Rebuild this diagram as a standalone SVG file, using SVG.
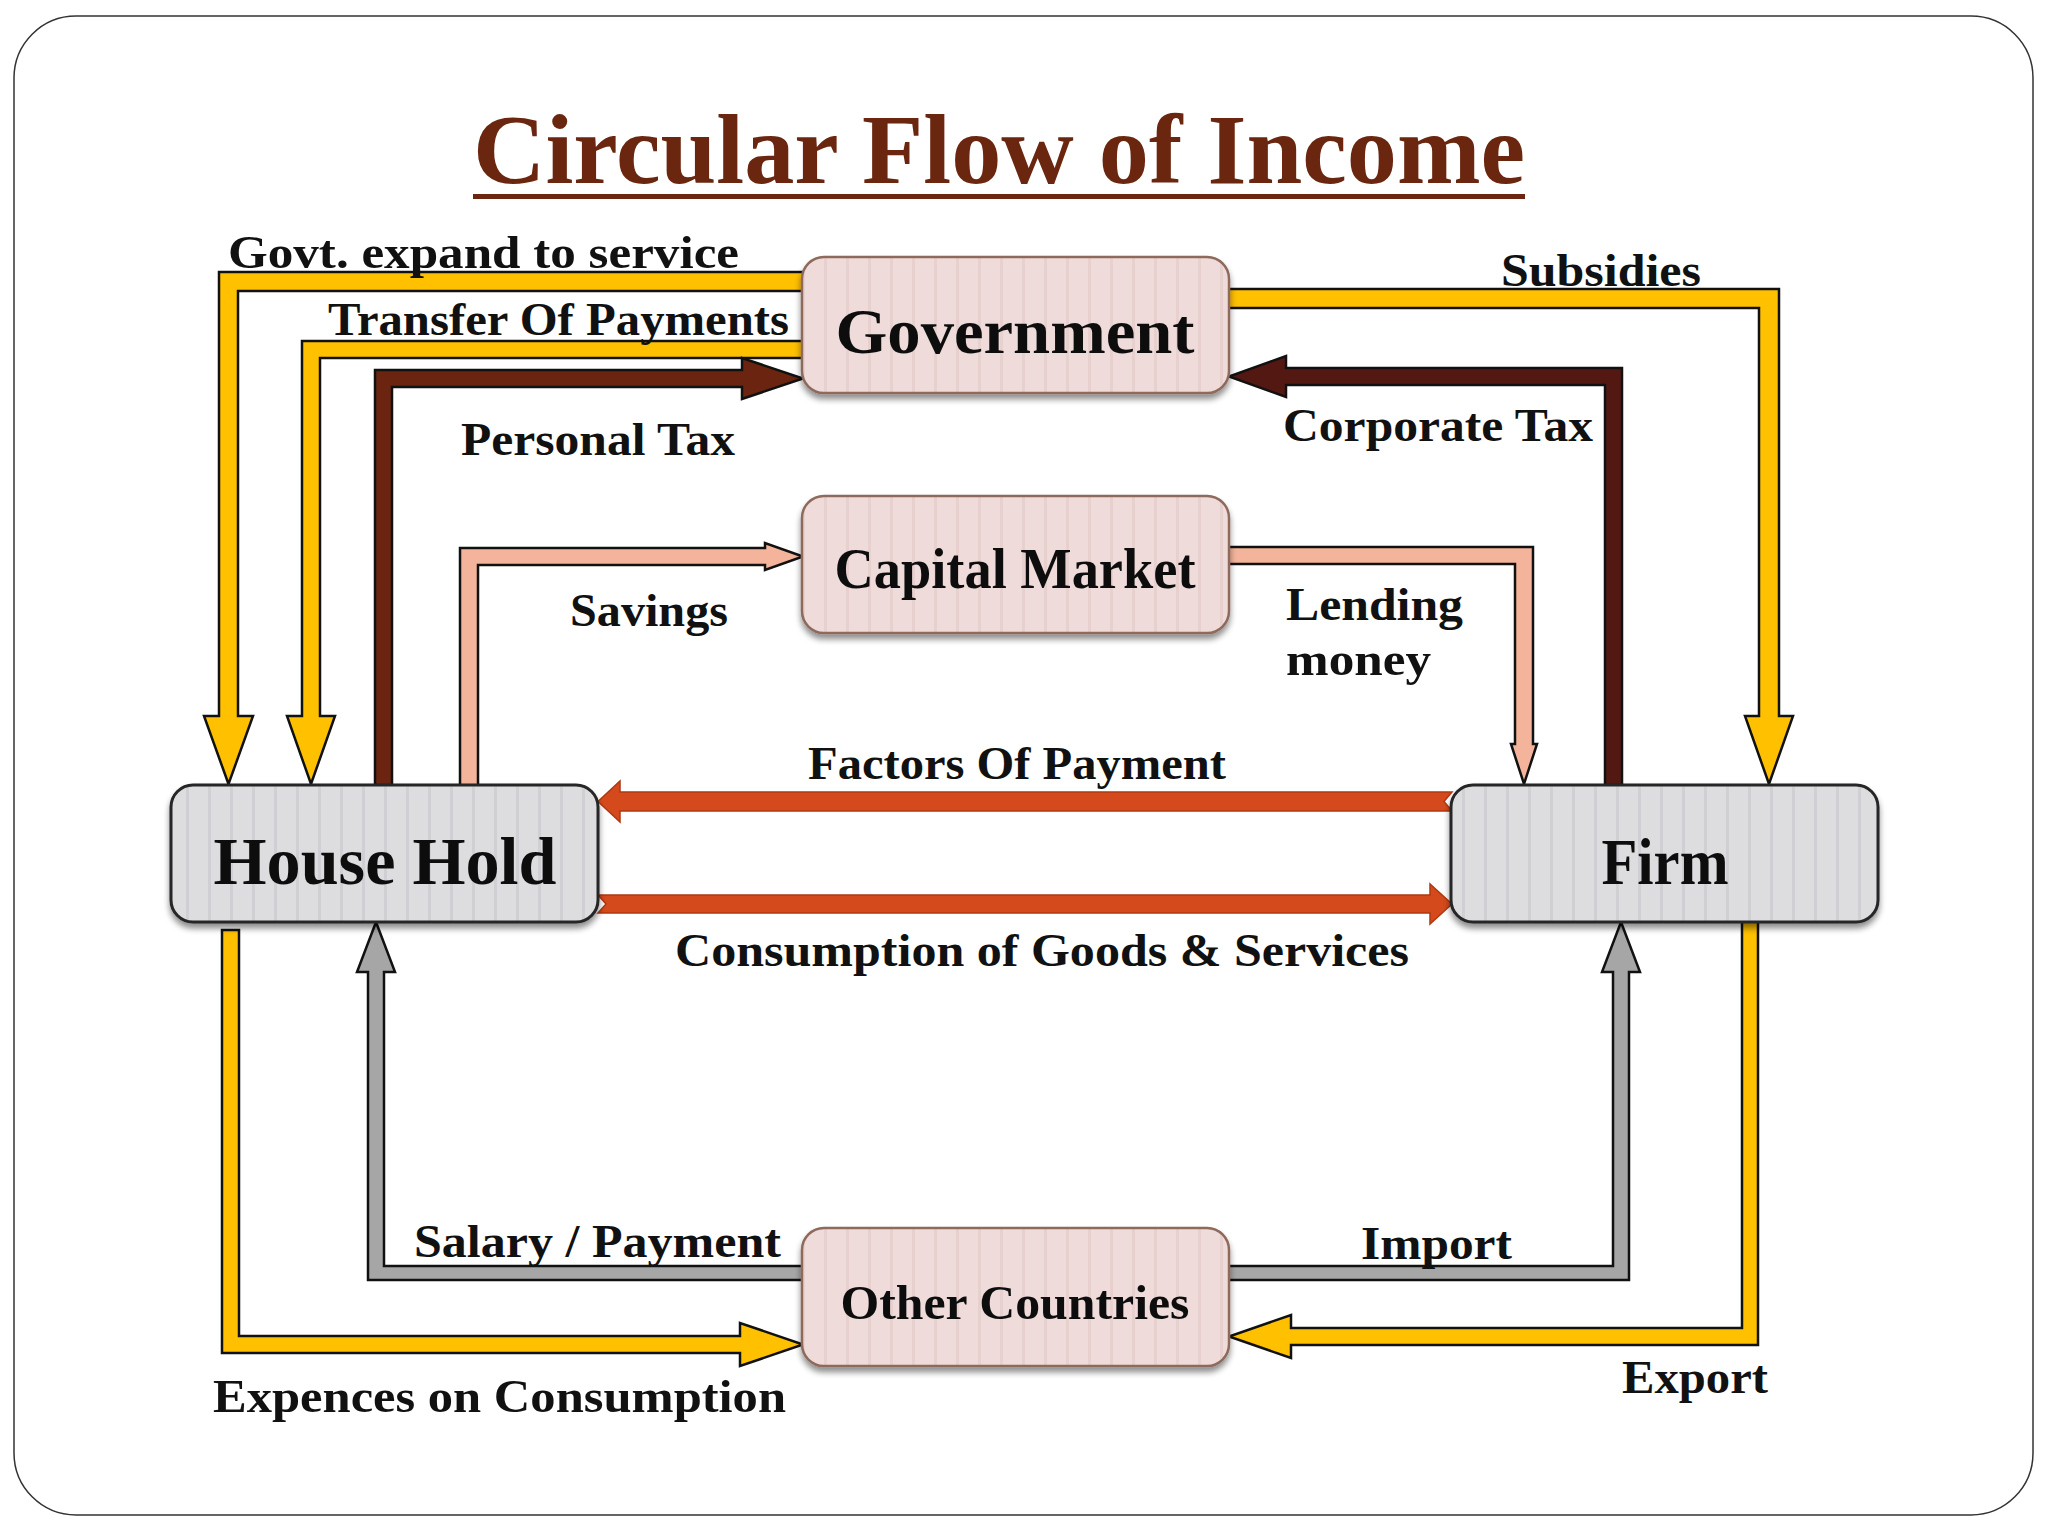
<svg xmlns="http://www.w3.org/2000/svg" width="2048" height="1536" viewBox="0 0 2048 1536">
<defs>
<style>
.lbl{font-family:"Liberation Serif","Times New Roman",serif;font-weight:bold;font-size:46px;fill:#111}
.node-pink{fill:url(#pinkStripe);stroke:#8E6A5C;stroke-width:2.5}
.node-gray{fill:url(#grayStripe);stroke:#262626;stroke-width:3}
.ntxt{font-family:"Liberation Serif","Times New Roman",serif;font-weight:bold;fill:#111;text-anchor:middle}
.yel{fill:#FFC000;stroke:#111;stroke-width:2.5;stroke-linejoin:miter}
.brn{fill:#6B2410;stroke:#111;stroke-width:2.5}
.dbrn{fill:#531812;stroke:#111;stroke-width:2.5}
.sal{fill:#F4B49B;stroke:#111;stroke-width:2.5}
.gry{fill:#A6A6A6;stroke:#111;stroke-width:2.5}
.red{fill:#D44A1C;stroke:#B03810;stroke-width:1.5}
</style>
<pattern id="pinkStripe" patternUnits="userSpaceOnUse" width="22" height="10">
<rect width="22" height="10" fill="#EFDCDA"/>
<rect x="10" width="3" height="10" fill="#E7D0CE"/>
</pattern>
<pattern id="grayStripe" patternUnits="userSpaceOnUse" width="22" height="10">
<rect width="22" height="10" fill="#DDDDE0"/>
<rect x="10" width="3" height="10" fill="#D0D0D4"/>
</pattern>
<filter id="shadow" x="-10%" y="-20%" width="120%" height="150%">
<feGaussianBlur in="SourceAlpha" stdDeviation="3"/>
<feOffset dy="5" result="b"/>
<feComponentTransfer><feFuncA type="linear" slope="0.45"/></feComponentTransfer>
<feMerge><feMergeNode/><feMergeNode in="SourceGraphic"/></feMerge>
</filter>
</defs>
<rect width="2048" height="1536" fill="#FFFFFF"/>
<rect x="14" y="16" width="2019" height="1499" rx="62" ry="62" fill="none" stroke="#333" stroke-width="1.5"/>

<g id="title">
<text x="999" y="183" text-anchor="middle" textLength="1052" lengthAdjust="spacingAndGlyphs" style="font-family:'Liberation Serif','Times New Roman',serif;font-weight:bold;font-size:100px;fill:#6B2610">Circular Flow of Income</text>
<rect x="473" y="194" width="1052" height="5" fill="#6B2610"/>
</g>

<g id="connectors">
<!-- Govt expand to service -->
<path class="yel" d="M806,272 H219 V716 H204 L228.5,784 L253,716 H238 V291 H806 Z"/>
<!-- Transfer Of Payments -->
<path class="yel" d="M806,341 H302 V716 H287 L311,784 L335,716 H320 V358 H806 Z"/>
<!-- Personal Tax -->
<path class="brn" d="M375,787 V370 H742 V358 L803,378.5 L742,399 V387 H392 V787 Z"/>
<!-- Savings -->
<path class="sal" d="M460,787 V548 H765 V543 L803,556.5 L765,570 V565 H478 V787 Z"/>
<!-- Subsidies -->
<path class="yel" d="M1225,289 H1779 V716 H1793 L1769,784 L1745,716 H1759 V308 H1225 Z"/>
<!-- Corporate Tax -->
<path class="dbrn" d="M1622,787 V368 H1286 V356 L1229,376.5 L1286,397 V385 H1605 V787 Z"/>
<!-- Lending money -->
<path class="sal" d="M1225,547 H1533 V744 H1537 L1524,784 L1511,744 H1515 V564 H1225 Z"/>
<!-- Factors Of Payment -->
<path class="red" d="M1452,792 H620 V781 L598,801.5 L620,822 V811 H1452 L1444,801.5 Z"/>
<!-- Consumption of Goods & Services -->
<path class="red" d="M598,895 H1430 V884 L1452,904 L1430,924 V913 H598 L606,904 Z"/>
<!-- Expences on Consumption -->
<path class="yel" d="M222,930 V1353 H740 V1366 L803,1344.5 L740,1323 V1336 H239 V930 Z"/>
<!-- Salary / Payment -->
<path class="gry" d="M806,1280 H368 V972 H357 L376,922 L395,972 H384 V1266 H806 Z"/>
<!-- Import -->
<path class="gry" d="M1225,1280 H1629 V972 H1640 L1621,922 L1602,972 H1613 V1266 H1225 Z"/>
<!-- Export -->
<path class="yel" d="M1758,920 V1345 H1291 V1358 L1229,1336.5 L1291,1315 V1328 H1742 V920 Z"/>
</g>

<g id="labels">
<text class="lbl" x="228" y="268" textLength="511" lengthAdjust="spacingAndGlyphs">Govt. expand to service</text>
<text class="lbl" x="328" y="335" textLength="461" lengthAdjust="spacingAndGlyphs">Transfer Of Payments</text>
<text class="lbl" x="461" y="455" textLength="274" lengthAdjust="spacingAndGlyphs">Personal Tax</text>
<text class="lbl" x="570" y="626" textLength="158" lengthAdjust="spacingAndGlyphs">Savings</text>
<text class="lbl" x="1501" y="286" textLength="200" lengthAdjust="spacingAndGlyphs">Subsidies</text>
<text class="lbl" x="1283" y="441" textLength="310" lengthAdjust="spacingAndGlyphs">Corporate Tax</text>
<text class="lbl" x="1286" y="620" textLength="177" lengthAdjust="spacingAndGlyphs">Lending</text>
<text class="lbl" x="1286" y="675" textLength="145" lengthAdjust="spacingAndGlyphs">money</text>
<text class="lbl" x="808" y="779" textLength="418" lengthAdjust="spacingAndGlyphs">Factors Of Payment</text>
<text class="lbl" x="675" y="966" textLength="734" lengthAdjust="spacingAndGlyphs">Consumption of Goods &amp; Services</text>
<text class="lbl" x="414" y="1257" textLength="367" lengthAdjust="spacingAndGlyphs">Salary / Payment</text>
<text class="lbl" x="1361" y="1259" textLength="151" lengthAdjust="spacingAndGlyphs">Import</text>
<text class="lbl" x="213" y="1412" textLength="573" lengthAdjust="spacingAndGlyphs">Expences on Consumption</text>
<text class="lbl" x="1622" y="1393" textLength="146" lengthAdjust="spacingAndGlyphs">Export</text>
</g>

<g id="node-government" filter="url(#shadow)">
<rect class="node-pink" x="802" y="257" width="427" height="136" rx="22" ry="22"/>
<text class="ntxt" x="1015" y="353" font-size="64" textLength="359" lengthAdjust="spacingAndGlyphs">Government</text>
</g>
<g id="node-capital-market" filter="url(#shadow)">
<rect class="node-pink" x="802" y="496" width="427" height="137" rx="22" ry="22"/>
<text class="ntxt" x="1015" y="588" font-size="56" textLength="361" lengthAdjust="spacingAndGlyphs">Capital Market</text>
</g>
<g id="node-household" filter="url(#shadow)">
<rect class="node-gray" x="171" y="785" width="427" height="137" rx="22" ry="22"/>
<text class="ntxt" x="385" y="884" font-size="68" textLength="343" lengthAdjust="spacingAndGlyphs">House Hold</text>
</g>
<g id="node-firm" filter="url(#shadow)">
<rect class="node-gray" x="1451" y="785" width="427" height="137" rx="22" ry="22"/>
<text class="ntxt" x="1665" y="884" font-size="66" textLength="127" lengthAdjust="spacingAndGlyphs">Firm</text>
</g>
<g id="node-other-countries" filter="url(#shadow)">
<rect class="node-pink" x="802" y="1228" width="427" height="138" rx="22" ry="22"/>
<text class="ntxt" x="1015" y="1319" font-size="48" textLength="349" lengthAdjust="spacingAndGlyphs">Other Countries</text>
</g>
</svg>
